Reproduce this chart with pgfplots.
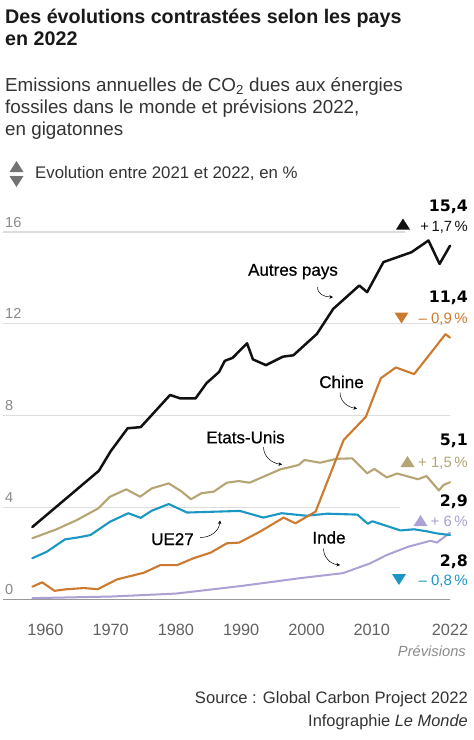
\documentclass[border=0pt]{standalone}
\usepackage{pgfplots}
\pgfplotsset{compat=1.18}
\usepackage{fontspec}
\setmainfont{Liberation Sans}
\newfontfamily\numfont{DejaVu Sans}
\newfontfamily\labfont[FakeBold=0.6]{Liberation Sans}
\usetikzlibrary{arrows.meta}

\definecolor{cAutres}{HTML}{111111}
\definecolor{cChine}{HTML}{CC7A2E}
\definecolor{cUS}{HTML}{B5A572}
\definecolor{cUE}{HTML}{1B97C4}
\definecolor{cInde}{HTML}{ADA0D4}
\definecolor{cGrid}{HTML}{DDDDDD}
\definecolor{cBase}{HTML}{999999}
\definecolor{cTick}{HTML}{8A8A8A}
\definecolor{cText}{HTML}{333333}

% up / down triangles used in the annotations
\newcommand{\uptri}[3]{\fill[#3] ({#1-7},{#2+5.5}) -- ({#1+7},{#2+5.5}) -- (#1,{#2-5.5}) -- cycle;}
\newcommand{\dntri}[3]{\fill[#3] ({#1-7},{#2-5.5}) -- ({#1+7},{#2-5.5}) -- (#1,{#2+5.5}) -- cycle;}

\pgfplotstableread{
year val
1958 3.15
1963 4.35
1968.2 5.6
1970 6.45
1972.6 7.45
1974.6 7.5
1979.1 8.9
1980.7 8.75
1983 8.75
1984.7 9.42
1986.6 9.9
1987.5 10.39
1988.7 10.52
1990.9 11.15
1991.8 10.45
1993.8 10.2
1996.4 10.57
1998 10.63
2001.6 11.56
2004.1 12.65
2008.1 13.67
2009.3 13.38
2011.8 14.69
2013.9 14.9
2016.1 15.12
2018.7 15.63
2020.4 14.61
2022 15.4
}\autres

\pgfplotstableread{
year val
1958 0.55
1959.5 0.74
1961.4 0.37
1963.3 0.44
1965.9 0.49
1968 0.44
1971 0.87
1973 1.01
1975.1 1.16
1977.6 1.49
1980.2 1.49
1982.7 1.79
1985.3 2.03
1987.8 2.44
1989.7 2.47
1992.9 2.95
1996.5 3.56
1998.3 3.31
2001.4 3.82
2005.7 6.94
2009.1 7.95
2011.4 9.63
2013.7 10.1
2016.5 9.81
2019 10.71
2021.3 11.55
2022 11.4
}\chine

\pgfplotstableread{
year val
1958 2.66
1961.7 3.05
1964.8 3.45
1968.1 3.96
1969.9 4.47
1972.4 4.79
1974.5 4.47
1976.3 4.83
1978.9 5.05
1980.9 4.69
1982.3 4.36
1983.9 4.62
1985.8 4.69
1987.8 5.08
1989.6 5.15
1991.3 5.08
1993.4 5.34
1996 5.66
1998.8 5.85
1999.7 6.07
2002.1 5.95
2004.6 6.12
2007.0 6.14
2009.3 5.49
2010.4 5.68
2012.3 5.31
2013.9 5.48
2017.1 5.23
2018.4 5.37
2020.3 4.74
2021 4.98
2022 5.1
}\us

\pgfplotstableread{
year val
1958 1.79
1960.2 2.07
1963 2.61
1965.1 2.7
1966.9 2.8
1969.9 3.38
1972.7 3.75
1974.6 3.55
1976.3 3.86
1978.9 4.15
1981.7 3.78
1989.8 3.85
1993.4 3.56
1996.2 3.75
2000 3.64
2003.2 3.73
2007.8 3.69
2009.4 3.29
2010.1 3.4
2014.4 3.0
2016.5 3.05
2018.5 2.96
2020 2.87
2022 2.8
}\ue

\pgfplotstableread{
year val
1958 0.05
1970 0.12
1980 0.25
1990 0.58
1999 0.92
2005.6 1.14
2009.8 1.57
2012.3 1.93
2015.6 2.29
2019 2.55
2020 2.47
2022 2.9
}\inde

\begin{document}
\begin{tikzpicture}
\fill[white] (0pt,0pt) rectangle (474pt,-740pt);

\begin{axis}[
  at={(3pt,-599.3pt)}, anchor=south west,
  scale only axis, width=447pt, height=367.3pt,
  xmin=1953.5, xmax=2022, ymin=0, ymax=16,
  hide axis, clip=false,
  every axis plot/.append style={line join=round, line cap=round},
]
% horizontal grid
\draw[cGrid, line width=1.2pt] (axis cs:1953.5,16) -- (axis cs:2015.1,16);
\draw[cGrid, line width=1.2pt] (axis cs:1953.5,12) -- (axis cs:2022,12);
\draw[cGrid, line width=1.2pt] (axis cs:1953.5,8) -- (axis cs:2022,8);
\draw[cGrid, line width=1.2pt] (axis cs:1953.5,4) -- (axis cs:2014.4,4);
\draw[cBase, line width=1.5pt] (axis cs:1953.5,0) -- (axis cs:2022,0);

% y labels above the grid lines
\pgfplotsinvokeforeach{0,4,8,12,16}{
  \node[anchor=base west, inner sep=0pt, text=cTick, font=\fontsize{14.5}{16}\selectfont]
    at (axis cs:1953.5,#1) [xshift=2pt, yshift=5pt] {#1};
}
% x labels
\pgfplotsinvokeforeach{1960,1970,1980,1990,2000,2010,2022}{
  \node[anchor=base, inner sep=0pt, text=black!62, font=\fontsize{16.3}{18}\selectfont]
    at (axis cs:#1,0) [yshift=-36.4pt] {#1};
}

\addplot[cInde, line width=2pt] table[x=year, y=val] {\inde};
\addplot[cUE, line width=2.1pt] table[x=year, y=val] {\ue};
\addplot[cUS, line width=2.1pt] table[x=year, y=val] {\us};
\addplot[cChine, line width=2.1pt] table[x=year, y=val] {\chine};
\addplot[cAutres, line width=2.5pt] table[x=year, y=val] {\autres};
\end{axis}

\begin{scope}[x=1pt, y=-1pt]
% title and subtitle
\node[anchor=base west, inner sep=0pt, text=black!90, font=\fontsize{19.7}{22}\selectfont\bfseries] at (5,23.3) {Des évolutions contrastées selon les pays};
\node[anchor=base west, inner sep=0pt, text=black!90, font=\fontsize{19.7}{22}\selectfont\bfseries] at (5,45) {en 2022};
\node[anchor=base west, inner sep=0pt, text=cText, font=\fontsize{18.8}{21}\selectfont] at (5,91.7) {Emissions annuelles de CO\textsubscript{2} dues aux énergies};
\node[anchor=base west, inner sep=0pt, text=cText, font=\fontsize{18.8}{21}\selectfont] at (5,113.3) {fossiles dans le monde et prévisions 2022,};
\node[anchor=base west, inner sep=0pt, text=cText, font=\fontsize{18.8}{21}\selectfont] at (5,135) {en gigatonnes};

% legend of the arrows
\uptri{16.5}{166.5}{black!55}
\dntri{16.5}{181.5}{black!55}
\node[anchor=base west, inner sep=0pt, text=cText, font=\fontsize{16.8}{19}\selectfont] at (35,178) {Evolution entre 2021 et 2022, en \%};

% end values and changes
\node[anchor=base east, inner sep=0pt, font=\fontsize{15.8}{17}\selectfont\numfont\bfseries] at (468,211.7) {15,4};
\uptri{403}{224}{cAutres}
\node[anchor=base east, inner sep=0pt, text=cAutres, font=\fontsize{14.8}{16}\selectfont] at (468,231.7) {+\,1,7\,\%};

\node[anchor=base east, inner sep=0pt, font=\fontsize{15.8}{17}\selectfont\numfont\bfseries] at (468,302.7) {11,4};
\dntri{401.5}{318}{cChine}
\node[anchor=base east, inner sep=0pt, text=cChine, font=\fontsize{15}{16}\selectfont] at (468,323.3) {– 0,9\,\%};

\node[anchor=base east, inner sep=0pt, font=\fontsize{15.8}{17}\selectfont\numfont\bfseries] at (468,445) {5,1};
\uptri{407.5}{461.5}{cUS}
\node[anchor=base east, inner sep=0pt, text=cUS, font=\fontsize{15}{16}\selectfont] at (468,467.5) {+ 1,5\,\%};

\node[anchor=base east, inner sep=0pt, font=\fontsize{15.8}{17}\selectfont\numfont\bfseries] at (468,506.7) {2,9};
\uptri{420.5}{520.5}{cInde}
\node[anchor=base east, inner sep=0pt, text=cInde, font=\fontsize{15}{16}\selectfont] at (468,526) {+ 6\,\%};

\node[anchor=base east, inner sep=0pt, font=\fontsize{15.8}{17}\selectfont\numfont\bfseries] at (468,566.7) {2,8};
\dntri{399}{579.5}{cUE}
\node[anchor=base east, inner sep=0pt, text=cUE, font=\fontsize{15}{16}\selectfont] at (468,585) {– 0,8\,\%};

% series names with their small pointers
\node[anchor=base, inner sep=0pt, font=\fontsize{17}{19}\selectfont\labfont] at (293,275.7) {Autres pays};
\draw[line width=0.5pt, -{Stealth[length=3.5pt,width=3.5pt]}] (317.5,287) .. controls (317.5,294) and (324,297) .. (333,297);

\node[anchor=base, inner sep=0pt, font=\fontsize{17}{19}\selectfont\labfont] at (341.5,388) {Chine};
\draw[line width=0.5pt, -{Stealth[length=3.5pt,width=3.5pt]}] (340,392.5) .. controls (340,401) and (347,407) .. (357,408.5);

\node[anchor=base, inner sep=0pt, font=\fontsize{17}{19}\selectfont\labfont] at (245.5,443.3) {Etats-Unis};
\draw[line width=0.5pt, -{Stealth[length=3.5pt,width=3.5pt]}] (263.5,447) .. controls (263.5,456) and (271,463) .. (282,464.5);

\node[anchor=base, inner sep=0pt, font=\fontsize{17}{19}\selectfont\labfont] at (172.5,545) {UE27};
\draw[line width=0.5pt, -{Stealth[length=3.5pt,width=3.5pt]}] (200,537.5) .. controls (211,537.5) and (219,531) .. (220,520.5);

\node[anchor=base, inner sep=0pt, font=\fontsize{17}{19}\selectfont\labfont] at (329,543.5) {Inde};
\draw[line width=0.5pt, -{Stealth[length=3.5pt,width=3.5pt]}] (323.5,548.5) .. controls (323.5,557) and (330,564) .. (340,565);

% forecast note and credits
\node[anchor=base east, inner sep=0pt, text=black!45, font=\fontsize{14.7}{16}\selectfont\itshape] at (466,656) {Prévisions};
\node[anchor=base east, inner sep=0pt, text=cText, font=\fontsize{16.6}{19}\selectfont] at (468,703) {Source : Global Carbon Project 2022};
\node[anchor=base east, inner sep=0pt, text=cText, font=\fontsize{16.4}{19}\selectfont] at (468,726.7) {Infographie \textit{Le Monde}};
\end{scope}
\end{tikzpicture}
\end{document}
